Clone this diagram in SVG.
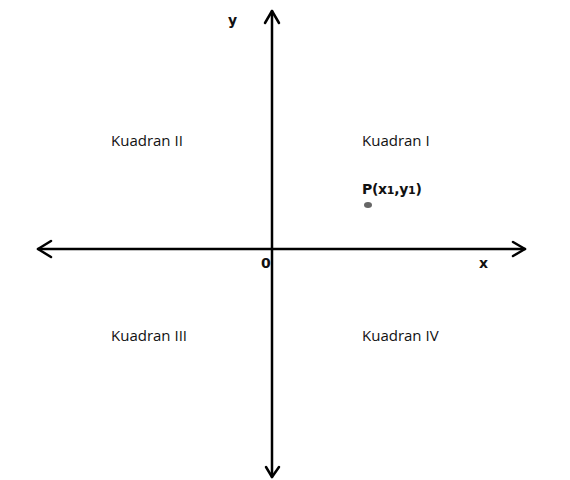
<svg xmlns="http://www.w3.org/2000/svg" width="570" height="480" viewBox="0 0 570 480">
<style>
.axis{stroke:#000;stroke-width:2.5;fill:none;stroke-linecap:round;stroke-linejoin:round}
.lbl{font-family:"Open Sans","DejaVu Sans",sans-serif;font-size:15px;fill:#111}
.b{font-family:"DejaVu Sans","Liberation Sans",sans-serif;font-weight:bold;font-size:14px;fill:#111}
.s{font-size:11px}
</style>
<rect width="570" height="480" fill="#fff"/>
<g id="connectors">
<path class="axis" d="M272 11 V477"/>
<path class="axis" d="M265 23 L272 11 L279 23"/>
<path class="axis" d="M266 467 L272 477 L279 467"/>
<path class="axis" d="M38 249 H525"/>
<path class="axis" d="M51 241 L38 249 L51 257"/>
<path class="axis" d="M513 242 L525 249 L513 256"/>
</g>
<g id="label-y"><text class="b" x="228" y="25">y</text></g>
<g id="label-x"><text class="b" x="479" y="268">x</text></g>
<g id="label-0"><text class="b" x="261" y="268">0</text></g>
<g id="q2"><text class="lbl" x="111" y="146">Kuadran II</text></g>
<g id="q1"><text class="lbl" x="362" y="146">Kuadran I</text></g>
<g id="q3"><text class="lbl" x="111" y="341">Kuadran III</text></g>
<g id="q4"><text class="lbl" x="362" y="341">Kuadran IV</text></g>
<g id="point">
<text class="b" x="362" y="194" letter-spacing="-0.3">P(x<tspan class="s">1</tspan>,y<tspan class="s">1</tspan>)</text>
<ellipse cx="368" cy="205" rx="4" ry="3" fill="#666"/>
</g>
</svg>
